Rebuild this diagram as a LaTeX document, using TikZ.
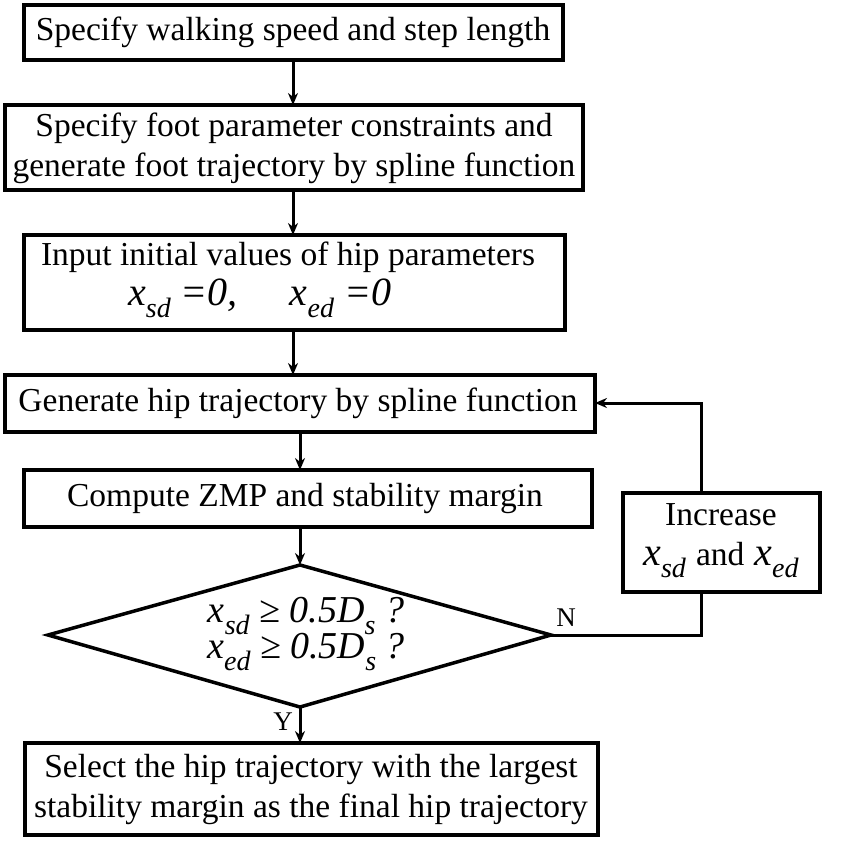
\documentclass[tikz,border=0pt]{standalone}
\usepackage{fontspec}
\setmainfont{Liberation Serif}
\usetikzlibrary{arrows.meta}
\newcommand{\xs}[1]{\textit{x}\raisebox{-0.3em}{\textit{\fontsize{28}{28}\selectfont #1}}}
\begin{document}
\begin{tikzpicture}[x=1pt,y=-1pt,
  box/.style={draw,line width=3.5pt},
  ln/.style={line width=3pt},
  ar/.style={ln,-{Stealth[length=12pt,width=10pt]}},
  txt/.style={font=\fontsize{33.5}{40}\selectfont,align=center}]
\useasboundingbox (0,0) rectangle (847,854);
\draw[box] (24,5) rectangle (563,60); \node[txt] (t1) at (293,32) {Specify walking speed and step length};
\draw[box] (5,105) rectangle (583,190); \node[txt] (t2) at (294,148) {Specify foot parameter constraints and\\generate foot trajectory by spline function};
\draw[box] (24,235) rectangle (565,330); \node[txt,align=left] (t3) at (288,280) {Input initial values of hip parameters\\\hspace*{2.6em}\fontsize{40}{40}\selectfont\xs{sd} \textit{=0,}\hspace{1.3em}\xs{ed} \textit{=0}};
\draw[box] (5,375) rectangle (595,432); \node[txt] (t4) at (298,403) {Generate hip trajectory by spline function};
\draw[box] (24,470) rectangle (592,527); \node[txt] (t5) at (305,498) {Compute ZMP and stability margin};
\draw[box] (300,565) -- (551,635) -- (300,707) -- (48,635) -- cycle;
\node[txt,font=\fontsize{38}{42}\selectfont] (t6) at (306,634) {\xs{sd} \textit{≥ 0.5D}\raisebox{-0.3em}{\textit{\fontsize{28}{28}\selectfont s}} \textit{?}\\[-6pt]\xs{ed} \textit{≥ 0.5D}\raisebox{-0.3em}{\textit{\fontsize{28}{28}\selectfont s}} \textit{?}};
\draw[box] (623,493) rectangle (820,592); \node[txt] (t7) at (721,541) {Increase\\\fontsize{40}{40}\selectfont\xs{sd} {\fontsize{33.5}{33}\selectfont and} \xs{ed}};
\draw[box] (25,743) rectangle (598,835); \node[txt] (t8) at (311,789) {Select the hip trajectory with the largest\\stability margin as the final hip trajectory};
\coordinate (a1) at (293,60); \coordinate (b1) at (293,105);
\coordinate (a2) at (293,190); \coordinate (b2) at (293,235);
\coordinate (a3) at (293,330); \coordinate (b3) at (293,375);
\coordinate (a4) at (300,432); \coordinate (b4) at (300,470);
\coordinate (a5) at (300,527); \coordinate (b5) at (300,565);
\coordinate (a6) at (300,707); \coordinate (b6) at (300,743);
\coordinate (r) at (551,635); \coordinate (ib) at (701,592); \coordinate (it) at (701,493); \coordinate (e4) at (595,403);
\draw[ar] (a1)--(b1); \draw[ar] (a2)--(b2); \draw[ar] (a3)--(b3);
\draw[ar] (a4)--(b4); \draw[ar] (a5)--(b5); \draw[ar] (a6)--(b6);
\draw[ln] (r) -- (701,635) -- (ib);
\draw[ar] (it) -- (701,403) -- (e4);
\node[txt,font=\fontsize{27}{27}\selectfont] (N) at (566,618) {N};
\node[txt,font=\fontsize{27}{27}\selectfont] (Y) at (283,722) {Y};
\end{tikzpicture}
\end{document}
